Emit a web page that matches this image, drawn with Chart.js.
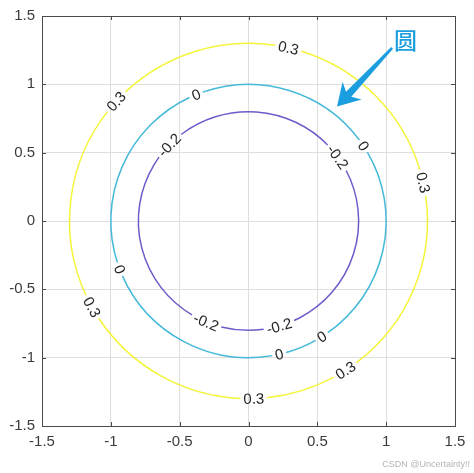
<!DOCTYPE html>
<html>
<head>
<meta charset="utf-8">
<script src="https://cdn.jsdelivr.net/npm/chart.js@4"></script>
<style>
html,body{margin:0;padding:0;background:#fff;}
#wrap{position:relative;width:474px;height:473px;}
</style>
</head>
<body>
<div id="wrap"><canvas id="c" width="474" height="473"></canvas></div>
<script>
// ---- data ----
const levels = [-0.2, 0, 0.3];                 // contour levels
const radii = [0.8, 1.0, 1.3];                 // radius of each contour circle (axis units)
const levelColors = ['#6b5cc9', '#45b9d9', '#f4f43a'];
// positions (angle in degrees, counter-clockwise from +x) of the inline level labels
const labelAngles = [
  [136, 35.8, 247.4, 286.2],
  [112.4, 33.3, 200.7, 302.2, 282.9],
  [77.1, 137.7, 12.5, 209, 302.8, 271.7]
];
const labelTexts = ['-0.2', '0', '0.3'];
const xTicks = [-1.5, -1, -0.5, 0, 0.5, 1, 1.5];
const yTicks = [-1.5, -1, -0.5, 0, 0.5, 1, 1.5];
const xTickLabels = ['-1.5', '-1', '-0.5', '0', '0.5', '1', '1.5'];
const yTickLabels = ['-1.5', '-1', '-0.5', '0', '0.5', '1', '1.5'];
const arrowTail = [1.043, 1.267];
const arrowTip = [0.643, 0.837];
const annotText = '圆';
const annotPos = [1.14, 1.325];

const labelFont = '15px "Liberation Sans", Arial, sans-serif';

const contourPlugin = {
  id: 'contours',
  afterDatasetsDraw(chart) {
    const ctx = chart.ctx;
    const xs = chart.scales.x, ys = chart.scales.y;
    const cx = xs.getPixelForValue(0), cy = ys.getPixelForValue(0);
    const area = chart.chartArea;
    ctx.save();
    ctx.beginPath();
    ctx.rect(area.left, area.top, area.right - area.left, area.bottom - area.top);
    ctx.clip();
    ctx.font = labelFont;
    levels.forEach((lv, i) => {
      const rx = xs.getPixelForValue(radii[i]) - cx;
      const ry = cy - ys.getPixelForValue(radii[i]);
      const text = labelTexts[i];
      const tw = ctx.measureText(text).width;
      const gapHalf = ((tw + 6) / 2) / rx; // radians
      const gaps = labelAngles[i].map(a => {
        const phi = -a * Math.PI / 180;
        return [phi - gapHalf, phi + gapHalf];
      }).map(g => g.map(v => ((v % (2*Math.PI)) + 2*Math.PI) % (2*Math.PI)));
      gaps.sort((a, b) => a[0] - b[0]);
      ctx.strokeStyle = levelColors[i];
      ctx.lineWidth = 1.5;
      for (let k = 0; k < gaps.length; k++) {
        const start = gaps[k][1];
        let end = gaps[(k + 1) % gaps.length][0];
        if (end < start) end += 2 * Math.PI;
        ctx.beginPath();
        ctx.ellipse(cx, cy, rx, ry, 0, start, end);
        ctx.stroke();
      }
      ctx.fillStyle = '#262626';
      ctx.textAlign = 'center';
      ctx.textBaseline = 'middle';
      labelAngles[i].forEach(a => {
        const t = a * Math.PI / 180;
        const px = cx + rx * Math.cos(t);
        const py = cy - ry * Math.sin(t);
        let rot = 90 - a;
        while (rot > 90) rot -= 180;
        while (rot < -90) rot += 180;
        ctx.save();
        ctx.translate(px, py);
        ctx.rotate(rot * Math.PI / 180);
        ctx.fillText(text, 0, 1);
        ctx.restore();
      });
    });
    ctx.restore();

    // box and inward ticks
    ctx.save();
    ctx.strokeStyle = '#4a4a4a';
    ctx.lineWidth = 1;
    ctx.strokeRect(Math.round(area.left) + 0.5, Math.round(area.top) + 0.5,
      Math.round(area.right - area.left), Math.round(area.bottom - area.top));
    ctx.beginPath();
    const tl = 4;
    xTicks.forEach(v => {
      const p = Math.round(xs.getPixelForValue(v)) + 0.5;
      ctx.moveTo(p, area.bottom); ctx.lineTo(p, area.bottom - tl);
      ctx.moveTo(p, area.top); ctx.lineTo(p, area.top + tl);
    });
    yTicks.forEach(v => {
      const p = Math.round(ys.getPixelForValue(v)) + 0.5;
      ctx.moveTo(area.left, p); ctx.lineTo(area.left + tl, p);
      ctx.moveTo(area.right, p); ctx.lineTo(area.right - tl, p);
    });
    ctx.stroke();
    ctx.restore();

    // arrow annotation
    const tx = xs.getPixelForValue(arrowTail[0]), ty = ys.getPixelForValue(arrowTail[1]);
    const hx = xs.getPixelForValue(arrowTip[0]), hy = ys.getPixelForValue(arrowTip[1]);
    const dx = hx - tx, dy = hy - ty;
    const L = Math.hypot(dx, dy);
    const ux = dx / L, uy = dy / L;
    const nx = -uy, ny = ux;
    const headLen = 22, headW = 13, notch = 5;
    const bx = hx - ux * headLen, by = hy - uy * headLen;
    const sx = hx - ux * (headLen - notch), sy = hy - uy * (headLen - notch);
    ctx.save();
    ctx.fillStyle = '#1b9ee0';
    ctx.beginPath();
    ctx.moveTo(tx + nx * 1.3, ty + ny * 1.3);
    ctx.lineTo(sx + nx * 3.6, sy + ny * 3.6);
    ctx.lineTo(bx + nx * headW, by + ny * headW);
    ctx.lineTo(hx, hy);
    ctx.lineTo(bx - nx * headW, by - ny * headW);
    ctx.lineTo(sx - nx * 3.6, sy - ny * 3.6);
    ctx.lineTo(tx - nx * 1.3, ty - ny * 1.3);
    ctx.closePath();
    ctx.fill();
    ctx.font = '500 23px "Noto Sans CJK SC", sans-serif';
    ctx.textAlign = 'center';
    ctx.textBaseline = 'middle';
    ctx.fillText(annotText, xs.getPixelForValue(annotPos[0]), ys.getPixelForValue(annotPos[1]));
    ctx.restore();

    // watermark
    ctx.save();
    ctx.font = '9px "Liberation Sans", Arial, sans-serif';
    ctx.fillStyle = '#b5b5b5';
    ctx.textAlign = 'right';
    ctx.textBaseline = 'middle';
    ctx.fillText('CSDN @Uncertainty!!', 470, 465);
    ctx.restore();
  }
};

new Chart(document.getElementById('c'), {
  type: 'scatter',
  data: {
    datasets: levels.map((lv, i) => ({
      label: String(lv),
      data: [],
      borderColor: levelColors[i]
    }))
  },
  options: {
    responsive: false,
    animation: false,
    events: [],
    layout: { padding: { top: 14, right: 19, left: 0, bottom: 0 } },
    plugins: { legend: { display: false }, tooltip: { enabled: false } },
    scales: {
      x: {
        type: 'linear', min: -1.5, max: 1.5,
        afterFit: s => { s.height = 47; },
        afterBuildTicks: s => { s.ticks = xTicks.map(v => ({ value: v })); },
        ticks: {
          font: { family: '"Liberation Sans", Arial, sans-serif', size: 15 },
          color: '#3c3c3c', padding: 7, maxRotation: 0,
          callback: (v) => xTickLabels[xTicks.indexOf(v)]
        },
        grid: { color: '#dedede', drawTicks: false },
        border: { display: false }
      },
      y: {
        type: 'linear', min: -1.5, max: 1.5,
        afterFit: s => { s.width = 42; },
        afterBuildTicks: s => { s.ticks = yTicks.map(v => ({ value: v })); },
        ticks: {
          font: { family: '"Liberation Sans", Arial, sans-serif', size: 15 },
          color: '#3c3c3c', padding: 7,
          callback: (v) => yTickLabels[yTicks.indexOf(v)]
        },
        grid: { color: '#dedede', drawTicks: false },
        border: { display: false }
      }
    }
  },
  plugins: [contourPlugin]
});
</script>
</body>
</html>
